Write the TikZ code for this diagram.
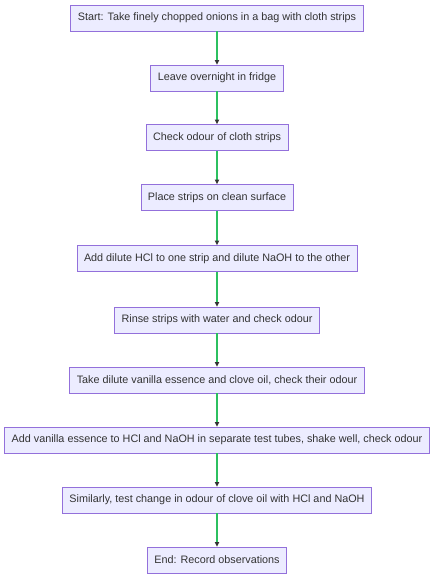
\documentclass[tikz,border=0pt]{standalone}
\usepackage{fontspec}
\setmainfont{Liberation Sans}
\definecolor{boxfill}{HTML}{ECECFF}
\definecolor{boxdraw}{HTML}{9370DB}
\definecolor{linkgreen}{HTML}{2CC060}
\definecolor{tipcol}{HTML}{333333}
\begin{document}
\begin{tikzpicture}[x=1pt,y=-1pt,
  stepbox/.style={draw=boxdraw,fill=boxfill,line width=0.8pt,minimum height=26pt,inner xsep=7pt,inner ysep=0pt,font=\fontsize{10.8}{12}\selectfont,text=tipcol},
  link/.style={draw=linkgreen,line width=1.2pt,shorten >=3.5pt},
  tiphead/.style={fill=tipcol}]
\useasboundingbox (0,0) rectangle (441,578);
\node[stepbox] (n1) at (217,18) {Start: Take finely chopped onions in a bag with cloth strips};
\node[stepbox] (n2) at (217,78) {Leave overnight in fridge};
\node[stepbox] (n3) at (217,137.5) {Check odour of cloth strips};
\node[stepbox] (n4) at (217,197.5) {Place strips on clean surface};
\node[stepbox] (n5) at (217,258.5) {Add dilute HCl to one strip and dilute NaOH to the other};
\node[stepbox] (n6) at (217,320) {Rinse strips with water and check odour};
\node[stepbox] (n7) at (217,380) {Take dilute vanilla essence and clove oil, check their odour};
\node[stepbox] (n8) at (217,440) {Add vanilla essence to HCl and NaOH in separate test tubes, shake well, check odour};
\node[stepbox] (n9) at (217,500) {Similarly, test change in odour of clove oil with HCl and NaOH};
\node[stepbox] (n10) at (217,560) {End: Record observations};
\foreach \a/\b in {n1/n2,n2/n3,n3/n4,n4/n5,n5/n6,n6/n7,n7/n8,n8/n9,n9/n10}{
  \draw[link] (\a) -- (\b);
  \fill[tiphead] ([xshift=-2.3pt,yshift=4.5pt]\b.north) -- ([xshift=2.3pt,yshift=4.5pt]\b.north) -- (\b.north) -- cycle;
}
\end{tikzpicture}
\end{document}
